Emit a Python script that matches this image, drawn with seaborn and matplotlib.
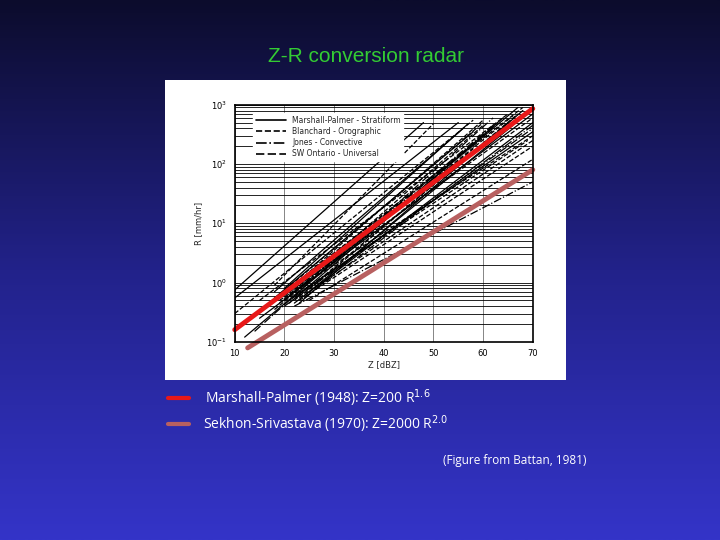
import numpy as np
import pandas as pd
import seaborn as sns
import matplotlib.pyplot as plt
from matplotlib.colors import LinearSegmentedColormap

# Z-R relations: (start dBZ, start R, end dBZ, end R)
zr_z0 = [10, 10, 10, 12, 14, 15, 18, 18, 19, 19, 20, 20, 20, 21, 21, 22, 22, 23, 23, 24,
         18, 19, 20, 20, 21, 22, 22, 23, 24, 25, 12, 15, 18, 20, 22, 25]
zr_r0 = [0.75, 0.55, 0.3, 0.2, 0.15, 0.5, 0.55, 0.7, 0.45, 0.6, 0.5, 0.65, 0.8, 0.45, 0.6, 0.5, 0.7, 0.55, 0.45, 0.6,
         0.9, 0.5, 0.4, 0.7, 0.5, 0.45, 0.6, 0.5, 0.55, 0.5, 0.12, 0.25, 0.35, 0.6, 0.4, 0.7]
zr_z1 = [48, 55, 58, 60, 62, 65, 58, 56, 60, 62, 63, 60, 57, 64, 66, 65, 62, 67, 68, 66,
         50, 70, 70, 68, 70, 70, 69, 70, 70, 70, 67, 70, 58, 70, 70, 70]
zr_r1 = [500, 500, 550, 500, 600, 700, 350, 400, 450, 400, 500, 550, 480, 600, 650, 500, 450, 700, 800, 450,
         480, 300, 400, 900, 350, 500, 250, 200, 450, 120, 900, 700, 180, 600, 50, 250]
zr_style = ["-", "-", "--", "--", "-.", "--"] * 6

# overlaid relations
mp_z = [10, 70]
mp_r = [0.16, 860]
ss_z = [12.6, 70]
ss_r = [0.079, 80]

legend_labels = ["Marshall-Palmer - Stratiform", "Blanchard - Orographic",
                 "Jones - Convective", "SW Ontario - Universal"]
legend_styles = ["-", "--", "-.", (0, (5, 2))]

sns.set_style("white")
plt.rcParams["font.family"] = ["DejaVu Sans"]

fig = plt.figure(figsize=(7.2, 5.4), dpi=100)

# slide background gradient
bg = fig.add_axes([0, 0, 1, 1])
grad = np.linspace(0, 1, 256).reshape(-1, 1)
cmap = LinearSegmentedColormap.from_list("slide", ["#0c0c2c", "#22228a", "#3434c8"])
bg.imshow(grad, aspect="auto", cmap=cmap, extent=[0, 1, 0, 1], origin="upper")
bg.set_axis_off()

fig.text(0.508, 0.885, "Z-R conversion radar", color="#33cc33", fontsize=15,
         ha="center", family="Liberation Sans")

# white scanned panel
panel = fig.add_axes([0.229, 0.296, 0.557, 0.556])
panel.set_facecolor("white")
panel.set_xticks([]); panel.set_yticks([])
for s in panel.spines.values():
    s.set_visible(False)

ax = fig.add_axes([0.326, 0.367, 0.414, 0.439])
ax.set_facecolor("white")
ax.set_yscale("log")
ax.grid(True, which="both", axis="y", color="black", linewidth=0.6)
ax.grid(True, which="major", axis="x", color="#555555", linewidth=0.5)

lines = pd.DataFrame({"z0": zr_z0, "r0": zr_r0, "z1": zr_z1, "r1": zr_r1, "ls": zr_style})
for row in lines.itertuples():
    sns.lineplot(x=[row.z0, row.z1], y=[row.r0, row.r1], ax=ax, color="black",
                 linewidth=0.9, linestyle=row.ls)

sns.lineplot(x=mp_z, y=mp_r, ax=ax, color="#e81818", linewidth=3.5, clip_on=False)
sns.lineplot(x=ss_z, y=ss_r, ax=ax, color="#b86060", linewidth=3.5, clip_on=False)

ax.set_xlim(10, 70)
ax.set_ylim(0.1, 1000)
ax.set_xticks([10, 20, 30, 40, 50, 60, 70])
ax.set_yticks([0.1, 1, 10, 100, 1000])
ax.set_yticklabels(["$10^{-1}$", "$10^{0}$", "$10^{1}$", "$10^{2}$", "$10^{3}$"])
ax.tick_params(labelsize=6, colors="black", length=2)
ax.set_xlabel("Z [dBZ]", fontsize=6, labelpad=1)
ax.set_ylabel("R [mm/hr]", fontsize=6, labelpad=2)
for s in ax.spines.values():
    s.set_color("black"); s.set_linewidth(1.2)

handles = [plt.Line2D([], [], color="black", linestyle=ls, linewidth=1.2) for ls in legend_styles]
ax.legend(handles, legend_labels, loc="upper left", fontsize=5.5, frameon=True, framealpha=1,
          edgecolor="white", fancybox=False, handlelength=4, borderpad=0.3, labelspacing=0.3,
          bbox_to_anchor=(0.05, 0.98))

# slide legend
fig.add_artist(plt.Line2D([0.233, 0.263], [0.263, 0.263], color="#e81818", linewidth=3))
fig.add_artist(plt.Line2D([0.233, 0.263], [0.215, 0.215], color="#b86060", linewidth=3))
fig.text(0.285, 0.263, "Marshall-Palmer (1948): Z=200 R$^{1.6}$", color="white",
         fontsize=10, va="center", family="Open Sans")
fig.text(0.282, 0.215, "Sekhon-Srivastava (1970): Z=2000 R$^{2.0}$", color="white",
         fontsize=10, va="center", family="Open Sans")
fig.text(0.815, 0.148, "(Figure from Battan, 1981)", color="white", fontsize=8.5,
         ha="right", va="center", family="Open Sans")

fig.savefig("out.png", dpi=100)
